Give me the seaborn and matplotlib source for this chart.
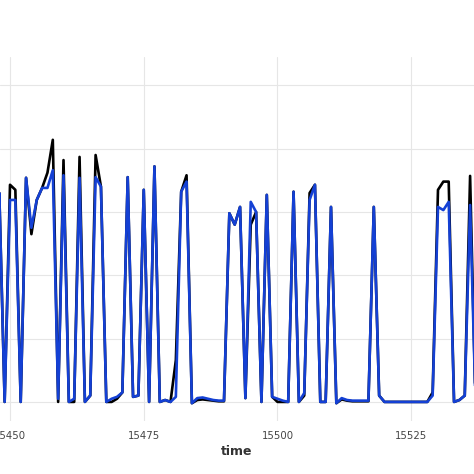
import matplotlib
matplotlib.use("Agg")
import matplotlib.pyplot as plt
import pandas as pd
import seaborn as sns

# time steps visible in the crop (one point per step)
time = list(range(15447, 15538))

# black series (drawn underneath)
actual = [0.0, 3.3, 0.0, 3.43, 3.35, 0.0, 3.54, 2.65, 3.19, 3.38,
          3.62, 4.14, 0.0, 3.82, 0.0, 0.0, 3.87, 0.0, 0.1, 3.9,
          3.4, 0.0, 0.0, 0.05, 0.15, 3.55, 0.08, 0.1, 3.35, 0.0,
          3.72, 0.0, 0.03, 0.0, 0.66, 3.32, 3.58, -0.02, 0.03, 0.04,
          0.03, 0.02, 0.01, 0.01, 2.98, 2.8, 3.08, 0.06, 2.8, 3.0,
          0.0, 3.27, 0.08, 0.0, 0.0, 0.0, 3.32, 0.0, 0.1, 3.3,
          3.43, 0.0, 0.0, 3.08, -0.02, 0.04, 0.02, 0.01, 0.01, 0.01,
          0.01, 3.08, 0.1, 0.0, 0.0, 0.0, 0.0, 0.0, 0.0, 0.0,
          0.0, 0.0, 0.15, 3.35, 3.48, 3.48, 0.0, 0.03, 0.1, 3.57,
          0.0]

# blue series (drawn on top)
predicted = [0.0, 3.3, 0.0, 3.19, 3.19, 0.0, 3.54, 2.75, 3.19, 3.38,
             3.38, 3.66, 0.05, 3.58, 0.0, 0.05, 3.54, 0.0, 0.1, 3.55,
             3.4, 0.0, 0.05, 0.08, 0.15, 3.55, 0.08, 0.1, 3.35, 0.0,
             3.72, 0.0, 0.03, 0.0, 0.08, 3.32, 3.48, -0.02, 0.06, 0.07,
             0.05, 0.03, 0.02, 0.02, 2.98, 2.8, 3.08, 0.06, 3.16, 3.0,
             0.0, 3.27, 0.08, 0.05, 0.02, 0.0, 3.32, 0.0, 0.14, 3.19,
             3.43, 0.0, 0.0, 3.08, -0.02, 0.06, 0.03, 0.02, 0.02, 0.02,
             0.02, 3.08, 0.1, 0.0, 0.0, 0.0, 0.0, 0.0, 0.0, 0.0,
             0.0, 0.0, 0.1, 3.08, 3.03, 3.16, 0.0, 0.03, 0.1, 3.11,
             0.0]

xticks = [15450, 15475, 15500, 15525]

data = pd.DataFrame({'time': time * 2,
                     'value': actual + predicted,
                     'series': ['actual'] * len(time) + ['predicted'] * len(time)})

sns.set_style('whitegrid', {'grid.color': '#e6e6e6'})
fig = plt.figure(figsize=(4.74, 4.74), dpi=100)
# the picture is a crop, so the axes span the whole width
ax = fig.add_axes([0.0, 0.112, 1.0, 0.768])

sns.lineplot(data=data, x='time', y='value', hue='series',
             hue_order=['actual', 'predicted'],
             palette=['#000000', '#1440d4'], linewidth=1.9,
             legend=False, ax=ax)

ax.set_xlim(15448.13, 15536.73)
ax.set_ylim(-0.30, 5.45)
ax.set_xticks(xticks)
ax.set_yticks([0, 1, 2, 3, 4, 5])
ax.tick_params(length=0, pad=7, labelsize=7.3, labelcolor='#444444', labelleft=False)
ax.set_xlabel('time', fontsize=9, fontweight='bold', color='#333333', labelpad=3)
ax.set_ylabel('')
sns.despine(left=True, bottom=True)

fig.savefig('out.png', dpi=100)
